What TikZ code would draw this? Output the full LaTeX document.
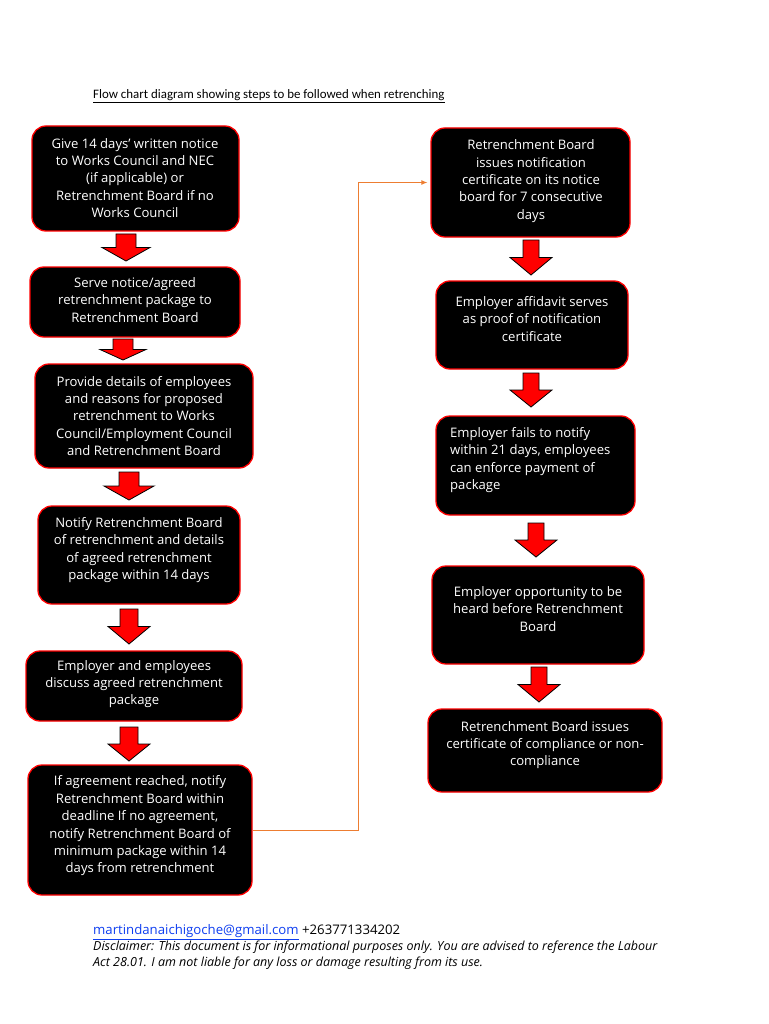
\documentclass[tikz,border=0pt]{standalone}
\usepackage{fontspec}
\setmainfont{Open Sans}
\newfontfamily\titlefont{Carlito}
\usetikzlibrary{positioning,arrows.meta}

\definecolor{boxred}{HTML}{FF0000}
\definecolor{linkorange}{HTML}{ED7D31}
\definecolor{maillink}{HTML}{0E3EF0}

\begin{document}
\begin{tikzpicture}[x=1pt,y=-1pt]
        \tikzset{stepbox/.style={draw=boxred,fill=black,line width=1.3pt,rounded corners=14pt,inner sep=0pt}}
        \tikzset{steptext/.style={text=white,align=center,inner sep=0pt,font=\fontsize{13.1}{17.4}\selectfont}}
        \tikzset{downarrow/.style={draw=black,fill=red,line width=0.8pt,line join=miter}}
        \tikzset{link/.style={draw=linkorange,line width=0.9pt,-{Latex[length=6pt,width=5pt]}}}
        
        \useasboundingbox (0,0) rectangle (768,1024);
        
        % title
        \node[anchor=base west,inner sep=0pt,font=\titlefont\fontsize{12.9}{15}\selectfont] (title) at (93,99)
            {\underline{Flow chart diagram showing steps to be followed when retrenching}};
        
        % left column
        \node[stepbox,minimum width=207,minimum height=105] (notice) at (135.5,178.5) {};
        \node[steptext] (notice-t) at (135,178) {Give 14 days' written notice\\to Works Council and NEC\\(if applicable) or\\Retrenchment Board if no\\Works Council};
        
        \node[stepbox,minimum width=210,minimum height=70] (serve) at (135,302) {};
        \node[steptext] (serve-t) at (135,300) {Serve notice/agreed\\retrenchment package to\\Retrenchment Board};
        
        \node[stepbox,minimum width=218,minimum height=104] (details) at (144,416) {};
        \node[steptext] (details-t) at (144,416) {Provide details of employees\\and reasons for proposed\\retrenchment to Works\\Council/Employment Council\\and Retrenchment Board};
        
        \node[stepbox,minimum width=202,minimum height=98] (notify) at (139,555) {};
        \node[steptext] (notify-t) at (139,550) {Notify Retrenchment Board\\of retrenchment and details\\of agreed retrenchment\\package within 14 days};
        
        \node[stepbox,minimum width=216,minimum height=70] (discuss) at (134,686) {};
        \node[steptext] (discuss-t) at (134,684) {Employer and employees\\discuss agreed retrenchment\\package};
        
        \node[stepbox,minimum width=224,minimum height=130] (agree) at (140,830) {};
        \node[steptext] (agree-t) at (140,826) {If agreement reached, notify\\Retrenchment Board within\\deadline If no agreement,\\notify Retrenchment Board of\\minimum package within 14\\days from retrenchment};
        
        % right column
        \node[stepbox,minimum width=199,minimum height=109] (board) at (530.5,182.5) {};
        \node[steptext] (board-t) at (531,181) {Retrenchment Board\\issues notification\\certificate on its notice\\board for 7 consecutive\\days};
        
        \node[stepbox,minimum width=192,minimum height=88] (affidavit) at (532,325) {};
        \node[steptext] (affidavit-t) at (532,319) {Employer affidavit serves\\as proof of notification\\certificate};
        
        \node[stepbox,minimum width=199,minimum height=99] (fails) at (535.5,465.5) {};
        \node[steptext,align=left,anchor=west] (fails-t) at (450,460) {Employer fails to notify\\within 21 days, employees\\can enforce payment of\\package};
        
        \node[stepbox,minimum width=212,minimum height=98] (heard) at (538,615) {};
        \node[steptext] (heard-t) at (538,609) {Employer opportunity to be\\heard before Retrenchment\\Board};
        
        \node[stepbox,minimum width=234,minimum height=83] (cert) at (545,750.5) {};
        \node[steptext] (cert-t) at (545,745) {Retrenchment Board issues\\certificate of compliance or non-\\compliance};
        
        % block arrows
        \foreach \x/\ya/\yb/\w/\s in {126/234/261/24/10, 123/339/360/23/10, 129/472/500/25/10,
                                        129/609/644/21/9, 129/727/761/21/9, 531/240/275/21/8,
                                        531/373/407/21/8, 536/523/557/21/8, 539/667/702/21/8} {
            \draw[downarrow] ({\x-\s},\ya) -- ({\x+\s},\ya) -- ({\x+\s},{(\ya+\yb)/2})
                -- ({\x+\w},{(\ya+\yb)/2}) -- (\x,\yb) -- ({\x-\w},{(\ya+\yb)/2})
                -- ({\x-\s},{(\ya+\yb)/2}) -- cycle;
        }
        
        % link between columns
        \coordinate (jog) at (358,0);
        \draw[link] (agree.east) -- (agree.east -| jog) |- ([xshift=-3]board.west);
        
        % footer
        \node[anchor=base west,inner sep=0pt,font=\fontsize{13.2}{16}\selectfont] (contact) at (93,934.5)
            {\textcolor{maillink}{\underline{martindanaichigoche@gmail.com}} +263771334202};
        \node[anchor=north west,inner sep=0pt,align=left,font=\itshape\fontsize{12.5}{16}\selectfont] (disclaimer) at (93,940.5)
            {Disclaimer: This document is for informational purposes only. You are advised to reference the Labour\\Act 28.01. I am not liable for any loss or damage resulting from its use.};
\end{tikzpicture}
\end{document}
